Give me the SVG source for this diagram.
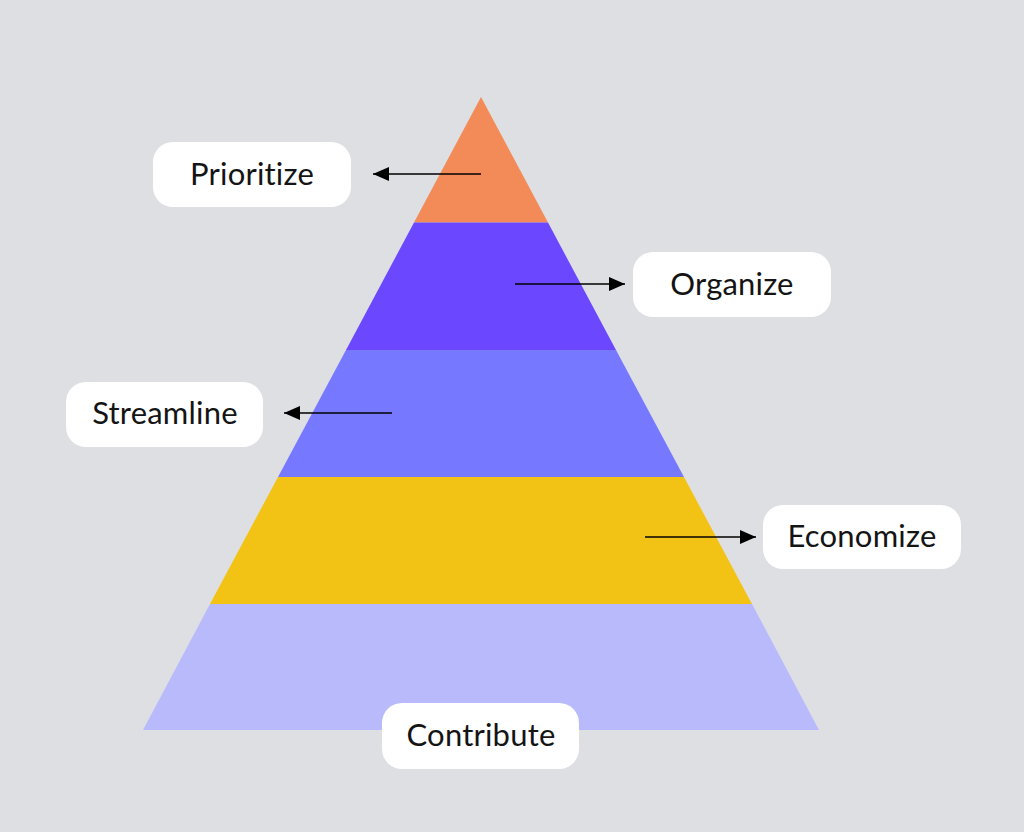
<svg xmlns="http://www.w3.org/2000/svg" width="1024" height="832" viewBox="0 0 1024 832">
<defs>
<style>
.box{fill:#ffffff}
.lbl{font-family:"Lato","Open Sans","Liberation Sans",sans-serif;font-size:31px;fill:#141414;text-anchor:middle;dominant-baseline:central;letter-spacing:0.2px}
.conn{stroke:#000;stroke-width:1.6;fill:none;marker-end:url(#ah)}
</style>
<marker id="ah" viewBox="0 0 16 14" refX="16" refY="7" markerWidth="16" markerHeight="14" markerUnits="userSpaceOnUse" orient="auto">
<path d="M0,0 L16,7 L0,14 Z" fill="#000"/>
</marker>
</defs>
<rect width="1024" height="832" fill="#DEDFE3"/>
<g id="pyramid">
<polygon points="481,97 548,222.5 414,222.5" fill="#F28B58"/>
<polygon points="414,222.5 548,222.5 616,350 346,350" fill="#6B48FF"/>
<polygon points="346,350 616,350 684,477 278,477" fill="#7679FF"/>
<polygon points="278,477 684,477 752,604 210,604" fill="#F2C315"/>
<polygon points="210,604 752,604 819,730 143,730" fill="#B8BAFC"/>
</g>
<g id="connectors">
<line class="conn" x1="481" y1="174" x2="373" y2="174"/>
<line class="conn" x1="515" y1="284" x2="625" y2="284"/>
<line class="conn" x1="392" y1="413" x2="284" y2="413"/>
<line class="conn" x1="645" y1="537" x2="756" y2="537"/>
</g>
<g id="prioritize">
<rect class="box" x="153" y="142" width="198" height="65" rx="20"/>
<text class="lbl" x="252" y="173">Prioritize</text>
</g>
<g id="organize">
<rect class="box" x="633" y="252" width="198" height="65" rx="20"/>
<text class="lbl" x="732" y="283">Organize</text>
</g>
<g id="streamline">
<rect class="box" x="66" y="382" width="197" height="65" rx="20"/>
<text class="lbl" x="165" y="412">Streamline</text>
</g>
<g id="economize">
<rect class="box" x="763" y="505" width="198" height="64" rx="20"/>
<text class="lbl" x="862" y="535">Economize</text>
</g>
<g id="contribute">
<rect class="box" x="382" y="703" width="197" height="66" rx="20"/>
<text class="lbl" x="481" y="734">Contribute</text>
</g>
</svg>
